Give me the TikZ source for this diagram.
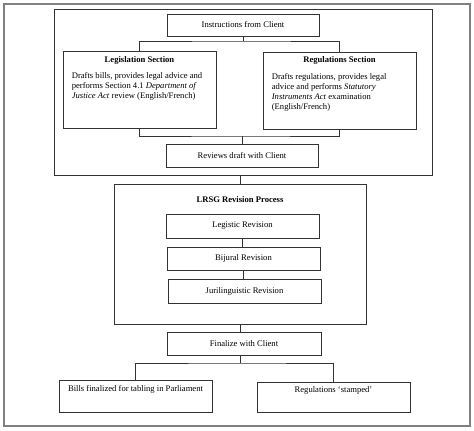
\documentclass[tikz,border=0pt]{standalone}
\usepackage{fontspec}
\setmainfont{Liberation Serif}
\begin{document}
\begin{tikzpicture}[x=1pt,y=1pt]
\tikzstyle{every node}+=[inner sep=0pt, font=\fontsize{8.6}{10}\selectfont]
\tikzstyle{box}=[draw=black!80, line width=0.7pt]
\tikzstyle{frame}=[draw=black!80, line width=0.8pt]
\tikzstyle{link}=[draw=black!80, line width=0.7pt]
\useasboundingbox (0,0) rectangle (474,431);
\draw [gray, line width=1.2pt] (4,5) rectangle (470,427);
% drafting stage
\node [frame, minimum width=378, minimum height=166] (drafting) at (243,339) {};
\node [box, minimum width=152, minimum height=22] (instr) at (243,406) {Instructions from Client};
\node [box, minimum width=153, minimum height=77] (leg) at (139.5,341.5) {};
\node (legtitle) at ([yshift=-10]leg.north) {\textbf{Legislation Section}};
\node [anchor=north west, align=left] (legtext) at ([xshift=9,yshift=-22]leg.north west)
  {Drafts bills, provides legal advice and\\ performs Section 4.1 \textit{Department of}\\ \textit{Justice Act} review (English/French)};
\node [box, minimum width=153, minimum height=77] (reg) at (339.5,340.5) {};
\node (regtitle) at ([yshift=-9]reg.north) {\textbf{Regulations Section}};
\node [anchor=north west, align=left] (regtext) at ([xshift=9,yshift=-22]reg.north west)
  {Drafts regulations, provides legal\\ advice and performs \textit{Statutory}\\ \textit{Instruments Act} examination\\ (English/French)};
\node [box, minimum width=152, minimum height=23] (reviews) at (242,275.5) {Reviews draft with Client};
% revision stage
\node [frame, minimum width=252, minimum height=140] (lrsg) at (240,177) {};
\node (lrsgtitle) at ([yshift=-16]lrsg.north) {\textbf{LRSG Revision Process}};
\node [box, minimum width=153, minimum height=24] (legistic) at (242.5,205) {Legistic Revision};
\node [box, minimum width=153, minimum height=23] (bijural) at (243.5,172.5) {Bijural Revision};
\node [box, minimum width=153, minimum height=24] (juril) at (244.5,140) {Jurilinguistic Revision};
% final stage
\node [box, minimum width=154, minimum height=23] (finalize) at (244,87.5) {Finalize with Client};
\node [box, minimum width=153, minimum height=32] (bills) at (135.5,35) {};
\node (billstext) at ([yshift=-10]bills.north) {Bills finalized for tabling in Parliament};
\node [box, minimum width=153, minimum height=30] (stamped) at (333.5,34) {};
\node (stampedtext) at ([yshift=-9]stamped.north) {Regulations `stamped'};
% connectors
\coordinate (split1) at (243,390);
\coordinate (join1) at (242,295);
\coordinate (split2) at (240,68);
\draw [link] (instr.south) -- (split1);
\draw [link] (leg.north) |- (split1) -| (reg.north);
\draw [link] (leg.south) |- (join1) -| (reg.south);
\draw [link] (join1) -- (reviews.north);
\draw [link] (lrsg.north) -- (lrsg.north |- drafting.south);
\draw [link] (legistic.south) -- (legistic.south |- bijural.north);
\draw [link] (bijural.south) -- (bijural.south |- juril.north);
\draw [link] (lrsg.south) -- (lrsg.south |- finalize.north);
\draw [link] (split2 |- finalize.south) -- (split2);
\draw [link] (bills.north) |- (split2) -| (stamped.north);
\end{tikzpicture}
\end{document}
